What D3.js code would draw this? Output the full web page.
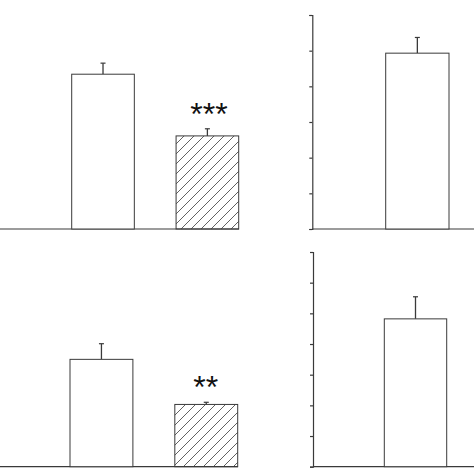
<!DOCTYPE html>
<html>
<head>
<meta charset="utf-8">
<script src="https://cdn.jsdelivr.net/npm/d3@7"></script>
<style>
html,body{margin:0;padding:0;background:#fff;}
svg{display:block;}
</style>
</head>
<body>
<script>
// ---- data ----
const leftCategories = ["Control", "Treated"];
const rightCategories = ["Control"];
const topLeftMeans = [4.34, 2.61];
const topLeftErrors = [0.31, 0.20];
const topRightMeans = [4.93];
const topRightErrors = [0.44];
const bottomLeftMeans = [3.50, 2.03];
const bottomLeftErrors = [0.51, 0.07];
const bottomRightMeans = [4.82];
const bottomRightErrors = [0.72];
const topSignif = ["", "***"];
const bottomSignif = ["", "**"];
const topTicks = [0, 1, 2, 3, 4, 5, 6];
const bottomTicks = [0, 1, 2, 3, 4, 5, 6, 7];

const W = 474, H = 474;
const ink = "#3a3a3a";
const svg = d3.select("body").append("svg").attr("width", W).attr("height", H);

const defs = svg.append("defs");
const pat = defs.append("pattern").attr("id", "hatch").attr("patternUnits", "userSpaceOnUse")
  .attr("width", 10).attr("height", 10);
pat.append("path").attr("d", "M-1,1 l2,-2 M0,10 l10,-10 M9,11 l2,-2")
  .attr("stroke", ink).attr("stroke-width", 0.8).attr("fill", "none");

function panel(opts) {
  const y = d3.scaleLinear().domain([0, opts.ticks[opts.ticks.length - 1]]).range([opts.base, opts.top]);
  const x = d3.scaleBand().domain(opts.cats).range(opts.xr)
    .paddingInner(opts.cats.length > 1 ? 0.4 : 0).paddingOuter(0);
  const g = svg.append("g");
  g.append("line").attr("x1", opts.baseX[0]).attr("x2", opts.baseX[1])
    .attr("y1", y(0)).attr("y2", y(0)).attr("stroke", ink).attr("stroke-width", 1.2);
  if (opts.axisX !== undefined) {
    const ax = g.append("g").attr("transform", `translate(${opts.axisX},0)`)
      .call(d3.axisLeft(y).tickValues(opts.ticks).tickSize(3).tickFormat(""));
    ax.selectAll("path,line").attr("stroke", ink).attr("stroke-width", 1.2);
  }
  const data = opts.cats.map((c, i) => ({c, m: opts.means[i], e: opts.errs[i], s: (opts.sig || [])[i] || "", i}));
  g.selectAll(".err").data(data).enter().append("line")
    .attr("x1", d => x(d.c) + x.bandwidth() / 2).attr("x2", d => x(d.c) + x.bandwidth() / 2)
    .attr("y1", d => y(d.m)).attr("y2", d => y(d.m + d.e)).attr("stroke", ink).attr("stroke-width", 1.3);
  g.selectAll(".cap").data(data).enter().append("line")
    .attr("x1", d => x(d.c) + x.bandwidth() / 2 - 2.5).attr("x2", d => x(d.c) + x.bandwidth() / 2 + 2.5)
    .attr("y1", d => y(d.m + d.e)).attr("y2", d => y(d.m + d.e)).attr("stroke", ink).attr("stroke-width", 1.2);
  g.selectAll(".bar").data(data).enter().append("rect")
    .attr("x", d => x(d.c)).attr("width", x.bandwidth())
    .attr("y", d => y(d.m)).attr("height", d => y(0) - y(d.m))
    .attr("fill", d => d.i === 1 ? "url(#hatch)" : "#fff")
    .attr("stroke", ink).attr("stroke-width", 1);
  g.selectAll(".sig").data(data.filter(d => d.s)).enter().append("text")
    .attr("x", d => x(d.c) + x.bandwidth() / 2 + opts.sigDx)
    .attr("y", d => y(d.m + d.e) + opts.sigDy)
    .attr("text-anchor", "middle")
    .attr("font-family", "Liberation Sans, Arial, sans-serif")
    .attr("font-size", 32)
    .attr("fill", "#111")
    .text(d => d.s);
}

panel({cats: leftCategories, means: topLeftMeans, errs: topLeftErrors, sig: topSignif,
  ticks: topTicks, base: 229, top: 15, xr: [71.7, 238.7], baseX: [0, 239], sigDx: 1.6, sigDy: -4});
panel({cats: rightCategories, means: topRightMeans, errs: topRightErrors,
  ticks: topTicks, base: 229, top: 15, xr: [385.7, 449], baseX: [312.3, 474], axisX: 312.3});
panel({cats: leftCategories, means: bottomLeftMeans, errs: bottomLeftErrors, sig: bottomSignif,
  ticks: bottomTicks, base: 466.7, top: 252, xr: [70, 237.7], baseX: [0, 238], sigDx: -0.5, sigDy: -4});
panel({cats: rightCategories, means: bottomRightMeans, errs: bottomRightErrors,
  ticks: bottomTicks, base: 466.7, top: 252, xr: [384.3, 446.7], baseX: [313, 474], axisX: 313});
</script>
</body>
</html>
